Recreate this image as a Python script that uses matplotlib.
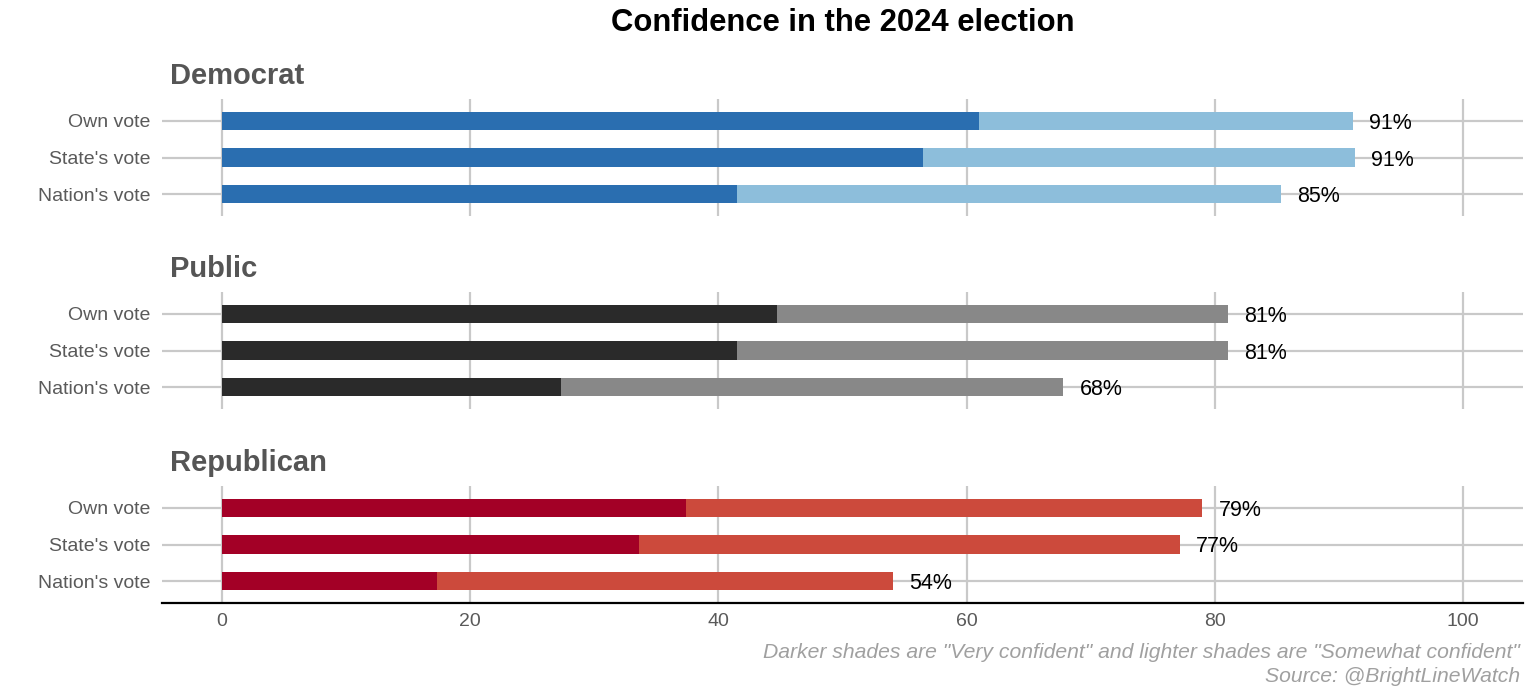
import matplotlib
matplotlib.use("Agg")
import matplotlib.pyplot as plt

plt.rcParams['font.family'] = ['Liberation Sans', 'DejaVu Sans']

groups = ["Democrat", "Public", "Republican"]
questions = ["Own vote", "State's vote", "Nation's vote"]
very_confident = {
    "Democrat":   [61.0, 56.5, 41.5],
    "Public":     [44.7, 41.5, 27.3],
    "Republican": [37.4, 33.6, 17.3],
}
total_confident = {
    "Democrat":   [91.1, 91.3, 85.3],
    "Public":     [81.1, 81.1, 67.8],
    "Republican": [79.0, 77.2, 54.1],
}
dark_colors = {"Democrat": "#2a6eb0", "Public": "#2a2a2a", "Republican": "#a30026"}
light_colors = {"Democrat": "#8dbedb", "Public": "#888888", "Republican": "#cc4a3c"}
x_ticks = [0, 20, 40, 60, 80, 100]

W, H = 1536, 698
fig = plt.figure(figsize=(W / 100, H / 100), dpi=100)

panel_px = [(99, 216), (292, 409), (486, 603)]
left_px, right_px = 162, 1523
strip_y = [76, 269, 463]

grid_color = "#c9c9c9"
for i, g in enumerate(groups):
    top, bot = panel_px[i]
    ax = fig.add_axes([left_px / W, 1 - bot / H, (right_px - left_px) / W, (bot - top) / H])
    ypos = [3, 2, 1]
    vc = very_confident[g]
    tc = total_confident[g]
    ax.barh(ypos, vc, height=0.5, color=dark_colors[g], zorder=3)
    ax.barh(ypos, [t - v for t, v in zip(tc, vc)], left=vc, height=0.5,
            color=light_colors[g], zorder=3)
    for y, t in zip(ypos, tc):
        ax.text(t + 1.3, y, f"{round(t)}%", va="center_baseline", ha="left",
                fontsize=15.5, color="black", zorder=4)
    ax.set_xlim(-4.83, 104.83)
    ax.set_ylim(0.4, 3.6)
    ax.set_yticks(ypos)
    ax.set_yticklabels(questions, va="center_baseline")
    ax.set_xticks(x_ticks)
    ax.set_axisbelow(True)
    ax.grid(True, color=grid_color, linewidth=1.6, zorder=0)
    for s in ["top", "right", "left", "bottom"]:
        ax.spines[s].set_visible(False)
    ax.tick_params(axis="y", length=0, pad=8.5, labelsize=14, labelcolor="#5a5a5a")
    ax.tick_params(axis="x", length=0, pad=7, labelsize=14, labelcolor="#5a5a5a")
    if i < 2:
        ax.set_xticklabels([])
    else:
        ax.spines["bottom"].set_visible(True)
        ax.spines["bottom"].set_color("black")
        ax.spines["bottom"].set_linewidth(1.6)
    fig.text(170 / W, 1 - strip_y[i] / H, g, ha="left", va="center",
             fontsize=21, fontweight="bold", color="#555555")

fig.text(842.5 / W, 1 - 23 / H, "Confidence in the 2024 election", ha="center",
         va="center", fontsize=22.3, fontweight="bold", color="black")
fig.text(1520 / W, 1 - 653 / H,
         'Darker shades are "Very confident" and lighter shades are "Somewhat confident"',
         ha="right", va="center", fontsize=15.2, style="italic", color="#a0a0a0")
fig.text(1520 / W, 1 - 677 / H, "Source: @BrightLineWatch",
         ha="right", va="center", fontsize=15.2, style="italic", color="#a0a0a0")

fig.savefig("out.png", dpi=100)
